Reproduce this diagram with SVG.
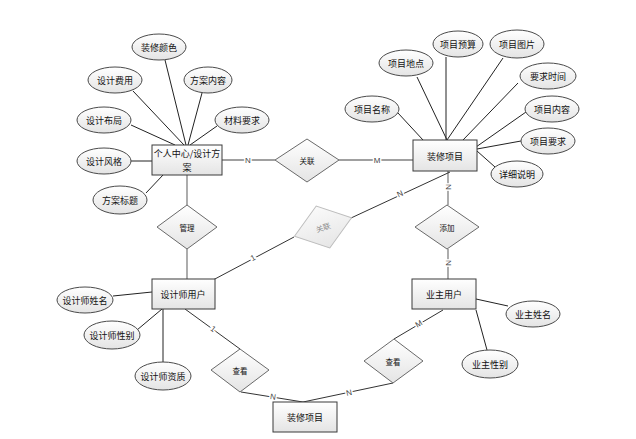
<svg xmlns="http://www.w3.org/2000/svg" width="636" height="439" viewBox="0 0 636 439">
<defs>
<linearGradient id="g" x1="0" y1="0" x2="0" y2="1"><stop offset="0" stop-color="#ffffff"/><stop offset="1" stop-color="#e4e4e4"/></linearGradient>
<linearGradient id="gg" x1="0" y1="0" x2="0" y2="1"><stop offset="0" stop-color="#fafafa"/><stop offset="1" stop-color="#e6e6e6"/></linearGradient>
</defs>
<style>
.ent{fill:url(#g);stroke:#3a3a3a;stroke-width:1}
.att{fill:url(#g);stroke:#4a4a4a;stroke-width:1}
.rel{fill:url(#g);stroke:#6a6a6a;stroke-width:1}
.t{font-family:"Noto Sans CJK SC","Liberation Sans",sans-serif;font-size:9px;fill:#111;text-anchor:middle;dominant-baseline:central}
.rt{font-family:"Noto Sans CJK SC","Liberation Sans",sans-serif;font-size:7.5px;fill:#111;text-anchor:middle;dominant-baseline:central}
.al{stroke:#222;stroke-width:1;fill:none}
.cl{stroke:#808080;stroke-width:1.3;fill:none}
.lb{font-family:"Liberation Sans",sans-serif;font-size:8px;fill:#444;text-anchor:middle;dominant-baseline:central;stroke:#fff;stroke-width:3;paint-order:stroke}
</style>
<g id="connectors">
<!-- attribute lines left -->
<line class="al" x1="165" y1="60" x2="186" y2="145"/>
<line class="al" x1="133" y1="91" x2="184" y2="145"/>
<line class="al" x1="202" y1="93" x2="188" y2="145"/>
<line class="al" x1="131" y1="125" x2="175" y2="145"/>
<line class="al" x1="217" y1="126" x2="190" y2="145"/>
<line class="al" x1="131" y1="161" x2="152" y2="161"/>
<line class="al" x1="146" y1="193" x2="163" y2="175"/>
<!-- attribute lines right -->
<line class="al" x1="398" y1="113" x2="423" y2="140"/>
<line class="al" x1="417" y1="77" x2="447" y2="140"/>
<line class="al" x1="446" y1="57" x2="446" y2="140"/>
<line class="al" x1="503" y1="58" x2="447" y2="140"/>
<line class="al" x1="518" y1="83" x2="463" y2="140"/>
<line class="al" x1="526" y1="112" x2="476" y2="147"/>
<line class="al" x1="521" y1="141" x2="477" y2="149"/>
<line class="al" x1="495" y1="167" x2="477" y2="151"/>
<!-- designer attributes -->
<line class="al" x1="113" y1="296" x2="152" y2="292"/>
<line class="al" x1="137" y1="330" x2="162" y2="309"/>
<line class="al" x1="163" y1="309" x2="163" y2="362"/>
<!-- owner attributes -->
<line class="al" x1="476" y1="299" x2="508" y2="306"/>
<line class="al" x1="476" y1="310" x2="487" y2="350"/>
<!-- relationship lines -->
<line class="cl" x1="222" y1="160" x2="275" y2="160"/>
<text class="lb" x="248" y="160">N</text>
<line class="cl" x1="339" y1="160" x2="413" y2="160"/>
<text class="lb" x="377" y="160">M</text>
<line class="cl" x1="187" y1="175" x2="187" y2="205"/>
<line class="cl" x1="187" y1="249" x2="187" y2="279"/>
<line class="cl" x1="448" y1="171" x2="448" y2="205"/>
<text class="lb" x="448" y="187" transform="rotate(90 448 187)">N</text>
<line class="cl" x1="448" y1="249" x2="448" y2="279"/>
<text class="lb" x="448" y="263" transform="rotate(90 448 263)">N</text>
<line class="al" x1="450" y1="172" x2="351" y2="218" style="stroke:#333"/>
<text class="lb" x="400" y="194" transform="rotate(-25 400 194)">N</text>
<line class="al" x1="294" y1="237" x2="213" y2="280" style="stroke:#333"/>
<text class="lb" x="253" y="258" transform="rotate(-28 253 258)">1</text>
<line class="al" x1="185" y1="309" x2="240" y2="349" style="stroke:#333"/>
<text class="lb" x="213" y="329" transform="rotate(36 213 329)">1</text>
<line class="al" x1="241" y1="392" x2="303" y2="402" style="stroke:#333"/>
<text class="lb" x="273" y="397" transform="rotate(9 273 397)">N</text>
<line class="al" x1="393" y1="383" x2="303" y2="402" style="stroke:#333"/>
<text class="lb" x="349" y="393" transform="rotate(-12 349 393)">N</text>
<line class="al" x1="394" y1="339" x2="443" y2="310" style="stroke:#333"/>
<text class="lb" x="419" y="324" transform="rotate(-30 419 324)">M</text>
</g>
<!-- entities -->
<g id="plan"><rect class="ent" x="152" y="145" width="70" height="30"/><text class="t" x="187" y="153">个人中心/设计方</text><text class="t" x="187" y="167">案</text></g>
<g id="project"><rect class="ent" x="413" y="140" width="64" height="31"/><text class="t" x="445" y="156">装修项目</text></g>
<g id="designer"><rect class="ent" x="152" y="279" width="63" height="30"/><text class="t" x="183" y="294">设计师用户</text></g>
<g id="owner"><rect class="ent" x="412" y="279" width="64" height="30"/><text class="t" x="444" y="294">业主用户</text></g>
<g id="project2"><rect class="ent" x="273" y="402" width="64" height="30"/><text class="t" x="305" y="417">装修项目</text></g>
<!-- relationships -->
<g id="rel-link"><polygon class="rel" points="275,160 307,139 339,160 307,182"/><text class="rt" x="307" y="160">关联</text></g>
<g id="rel-manage"><polygon class="rel" points="157,227 187,205 217,227 187,249"/><text class="rt" x="187" y="227">管理</text></g>
<g id="rel-add"><polygon class="rel" points="415,227 447,205 479,227 447,249"/><text class="rt" x="447" y="227">添加</text></g>
<g id="rel-link2" transform="rotate(-18 323 227)"><polygon points="293,227 323,205 353,227 323,249" style="fill:url(#gg);stroke:#bdbdbd;stroke-width:1"/><text class="rt" x="323" y="227" style="fill:#8a8a8a">关联</text></g>
<g id="rel-view1"><polygon class="rel" points="211,370 240,349 269,370 240,392"/><text class="rt" x="240" y="370">查看</text></g>
<g id="rel-view2"><polygon class="rel" points="364,361 394,339 423,361 393,383"/><text class="rt" x="393" y="361">查看</text></g>
<!-- attributes left -->
<g id="a1"><ellipse class="att" cx="159" cy="47" rx="27" ry="13"/><text class="t" x="159" y="47">装修颜色</text></g>
<g id="a2"><ellipse class="att" cx="115" cy="80" rx="27" ry="13"/><text class="t" x="115" y="80">设计费用</text></g>
<g id="a3"><ellipse class="att" cx="208" cy="80" rx="24" ry="13"/><text class="t" x="208" y="80">方案内容</text></g>
<g id="a4"><ellipse class="att" cx="104" cy="120" rx="27" ry="13"/><text class="t" x="104" y="120">设计布局</text></g>
<g id="a5"><ellipse class="att" cx="242" cy="120" rx="27" ry="13"/><text class="t" x="242" y="120">材料要求</text></g>
<g id="a6"><ellipse class="att" cx="104" cy="161" rx="27" ry="13"/><text class="t" x="104" y="161">设计风格</text></g>
<g id="a7"><ellipse class="att" cx="120" cy="200" rx="27" ry="14"/><text class="t" x="120" y="200">方案标题</text></g>
<!-- attributes right -->
<g id="b1"><ellipse class="att" cx="372" cy="109" rx="27" ry="13"/><text class="t" x="372" y="109">项目名称</text></g>
<g id="b2"><ellipse class="att" cx="406" cy="63" rx="27" ry="13"/><text class="t" x="406" y="63">项目地点</text></g>
<g id="b3"><ellipse class="att" cx="458" cy="44" rx="25" ry="13"/><text class="t" x="458" y="44">项目预算</text></g>
<g id="b4"><ellipse class="att" cx="517" cy="44" rx="27" ry="14"/><text class="t" x="517" y="44">项目图片</text></g>
<g id="b5"><ellipse class="att" cx="548" cy="76" rx="28" ry="13"/><text class="t" x="548" y="76">要求时间</text></g>
<g id="b6"><ellipse class="att" cx="552" cy="109" rx="27" ry="13"/><text class="t" x="552" y="109">项目内容</text></g>
<g id="b7"><ellipse class="att" cx="548" cy="141" rx="27" ry="13"/><text class="t" x="548" y="141">项目要求</text></g>
<g id="b8"><ellipse class="att" cx="517" cy="174" rx="26" ry="13"/><text class="t" x="517" y="174">详细说明</text></g>
<!-- designer attributes -->
<g id="c1"><ellipse class="att" cx="85" cy="300" rx="28" ry="13"/><text class="t" x="85" y="300">设计师姓名</text></g>
<g id="c2"><ellipse class="att" cx="112" cy="335" rx="28" ry="14"/><text class="t" x="112" y="335">设计师性别</text></g>
<g id="c3"><ellipse class="att" cx="163" cy="376" rx="28" ry="14"/><text class="t" x="163" y="376">设计师资质</text></g>
<!-- owner attributes -->
<g id="d1"><ellipse class="att" cx="533" cy="314" rx="27" ry="13"/><text class="t" x="533" y="314">业主姓名</text></g>
<g id="d2"><ellipse class="att" cx="490" cy="364" rx="28" ry="14"/><text class="t" x="490" y="364">业主性别</text></g>
</svg>
